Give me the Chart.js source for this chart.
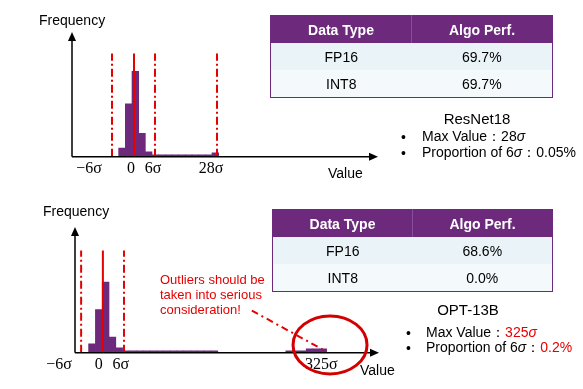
<!DOCTYPE html>
<html>
<head>
<meta charset="utf-8">
<script src="https://cdn.jsdelivr.net/npm/chart.js@4.4.0/dist/chart.umd.min.js"></script>
<style>
  body { margin: 0; background: #fff; width: 583px; height: 389px; overflow: hidden; position: relative;
         font-family: "Liberation Sans", Arial, sans-serif; color: #000; }
  canvas { position: absolute; left: 0; }
  .t { position: absolute; white-space: nowrap; transform: translateY(-50%); font-size: 14px; }
  .c { transform: translate(-50%, -50%); }
  .red { color: #e60000; }
  i { font-style: italic; }
  table { position: absolute; border-collapse: collapse; border: 1.5px solid #6d2a7c; font-size: 14px; table-layout: fixed; }
  th { background: #6d2a7c; color: #fff; font-weight: bold; padding: 0; height: 27px; }
  th + th { border-left: 1px solid #84509a; }
  td { text-align: center; padding: 0; height: 27px; }
  tr.r1 td { background: #eaf4f8; }
  tr.r2 td { background: #f4f9fb; }
</style>
</head>
<body>
<canvas id="resnet" width="400" height="190" style="top:0"></canvas>
<canvas id="opt" width="400" height="199" style="top:190px"></canvas>

<div class="t" style="left:39px; top:20px">Frequency</div>
<div class="t" style="left:328px; top:173px">Value</div>
<div class="t" style="left:43px; top:211px">Frequency</div>
<div class="t" style="left:360px; top:370px">Value</div>

<table style="left:270px; top:15px; width:283px">
  <tr><th>Data Type</th><th>Algo Perf.</th></tr>
  <tr class="r1"><td>FP16</td><td>69.7%</td></tr>
  <tr class="r2"><td>INT8</td><td>69.7%</td></tr>
</table>
<div class="t c" style="left:477px; top:118px; font-size:15px">ResNet18</div>
<div class="t" style="left:401px; top:137px">•</div>
<div class="t" style="left:422px; top:137px">Max Value：28<i>σ</i></div>
<div class="t" style="left:401px; top:153px">•</div>
<div class="t" style="left:422px; top:153px">Proportion of 6<i>σ</i>：0.05%</div>

<table style="left:272px; top:209px; width:281px">
  <tr><th>Data Type</th><th>Algo Perf.</th></tr>
  <tr class="r1"><td>FP16</td><td>68.6%</td></tr>
  <tr class="r2"><td>INT8</td><td>0.0%</td></tr>
</table>
<div class="t c" style="left:468px; top:309px; font-size:15px">OPT-13B</div>
<div class="t" style="left:406px; top:333px">•</div>
<div class="t" style="left:426px; top:333px">Max Value：<span class="red">325<i>σ</i></span></div>
<div class="t" style="left:406px; top:348px">•</div>
<div class="t" style="left:426px; top:348px">Proportion of 6<i>σ</i>：<span class="red">0.2%</span></div>

<div class="t red" style="left:160px; top:294px; font-size:13px; line-height:15px">Outliers should be<br>taken into serious<br>consideration!</div>

<script>
// ResNet18 histogram (bin index -> frequency, in chart units)
var resnetBins = [7, 8, 9, 10, 11, 12, 13, 14, 15, 16, 17, 18, 19, 20, 21];
var resnetFreq = [9, 54, 87, 24, 5, 2, 2, 2, 2, 2, 2, 2, 2, 2, 4];
var resnetTickPos = [2.55, 8.85, 12.15, 20.85];
var resnetTickText = ['\u22126\u03c3', '0', '6\u03c3', '28\u03c3'];
var resnetMean = 9.3;
var resnetBounds = [6.0, 12.45, 21.75];

// OPT-13B histogram
var optBins = [2, 3, 4, 5, 6, 7, 8, 9, 10, 11, 12, 13, 14, 15, 16, 17, 18, 19, 20, 31, 32, 33, 34, 35, 36];
var optFreq = [9, 44, 72, 16, 5, 2, 2, 2, 2, 2, 2, 2, 2, 2, 2, 2, 2, 2, 2, 2, 2, 2, 4, 4, 4];
var optTickPos = [-2.35, 3.5, 6.75, 36.2];
var optTickText = ['\u22126\u03c3', '0', '6\u03c3', '325\u03c3'];
var optMean = 4.1;
var optBounds = [0.9, 7.2];

var purple = '#6d2a7c';
var red = '#e60000';

// black axes with arrow heads, y axis sits at x = 0
var axesArrows = {
  id: 'axesArrows',
  afterDatasetsDraw: function(chart) {
    var ctx = chart.ctx, area = chart.chartArea;
    var x0 = chart.scales.x.getPixelForValue(0);
    var y0 = chart.scales.y.getPixelForValue(0);
    ctx.save();
    ctx.strokeStyle = '#000';
    ctx.fillStyle = '#000';
    ctx.lineWidth = 1.5;
    ctx.beginPath();
    ctx.moveTo(x0, y0);
    ctx.lineTo(x0, area.top + 6);
    ctx.moveTo(x0, y0);
    ctx.lineTo(area.right - 6, y0);
    ctx.stroke();
    ctx.beginPath();
    ctx.moveTo(x0, area.top);
    ctx.lineTo(x0 - 4, area.top + 9);
    ctx.lineTo(x0 + 4, area.top + 9);
    ctx.closePath();
    ctx.fill();
    ctx.beginPath();
    ctx.moveTo(area.right, y0);
    ctx.lineTo(area.right - 9, y0 - 4);
    ctx.lineTo(area.right - 9, y0 + 4);
    ctx.closePath();
    ctx.fill();
    ctx.restore();
  }
};

// red circle around the outliers and the pointer from the note
var outlierNote = {
  id: 'outlierNote',
  afterDraw: function(chart, args, opts) {
    if (!opts.center) return;
    var ctx = chart.ctx, sx = chart.scales.x, sy = chart.scales.y;
    ctx.save();
    ctx.strokeStyle = red;
    ctx.lineWidth = 2;
    ctx.setLineDash([7, 4, 2, 4]);
    ctx.beginPath();
    ctx.moveTo(sx.getPixelForValue(opts.from[0]), sy.getPixelForValue(opts.from[1]));
    ctx.lineTo(sx.getPixelForValue(opts.to[0]), sy.getPixelForValue(opts.to[1]));
    ctx.stroke();
    ctx.setLineDash([]);
    ctx.strokeStyle = '#d40000';
    ctx.lineWidth = 3;
    ctx.beginPath();
    ctx.ellipse(sx.getPixelForValue(opts.center[0]), sy.getPixelForValue(opts.center[1]), 37, 29, 0, 0, Math.PI * 2);
    ctx.stroke();
    ctx.restore();
  }
};

function vline(x, h, dashed) {
  return {
    type: 'line',
    data: [{x: x, y: 0}, {x: x, y: h}],
    borderColor: red,
    borderWidth: 2,
    borderDash: dashed ? [8, 3, 2, 3] : [],
    pointRadius: 0,
    order: 0
  };
}

function makeHist(id, bins, freq, tickPos, tickText, mean, bounds, lineH, xMin, xMax, yMax, pad, note) {
  var datasets = [{
    type: 'bar',
    data: bins.map(function(b, i) { return {x: b + 0.5, y: freq[i]}; }),
    backgroundColor: purple,
    borderWidth: 0,
    barPercentage: 1,
    categoryPercentage: 1,
    order: 1
  }];
  bounds.forEach(function(b) { datasets.push(vline(b, lineH, true)); });
  datasets.push(vline(mean, lineH, false));

  return new Chart(document.getElementById(id).getContext('2d'), {
    type: 'bar',
    data: {datasets: datasets},
    options: {
      responsive: false,
      animation: false,
      layout: {padding: pad},
      plugins: {legend: {display: false}, tooltip: {enabled: false}, outlierNote: note || {}},
      scales: {
        x: {
          type: 'linear',
          offset: false,
          min: xMin,
          max: xMax,
          grid: {display: false, drawTicks: false, offset: false},
          border: {display: false},
          afterBuildTicks: function(scale) {
            scale.ticks = tickPos.map(function(v) { return {value: v}; });
          },
          ticks: {
            autoSkip: false,
            maxRotation: 0,
            padding: 2,
            color: '#000',
            font: {family: '"Liberation Serif", serif', size: 16},
            callback: function(value, index) { return tickText[index]; }
          }
        },
        y: {display: false, min: 0, max: yMax}
      }
    },
    plugins: [axesArrows, outlierNote]
  });
}

makeHist('resnet', resnetBins, resnetFreq, resnetTickPos, resnetTickText, resnetMean, resnetBounds, 105,
  -4.8, 45.9, 127, {left: 40, right: 22, top: 32, bottom: 10});

makeHist('opt', optBins, optFreq, optTickPos, optTickText, optMean, optBounds, 104,
  -5.147, 44.7, 128, {left: 40, right: 21, top: 37, bottom: 13},
  {center: [37.5, 8], from: [26, 43], to: [36.5, 3]});
</script>
</body>
</html>
